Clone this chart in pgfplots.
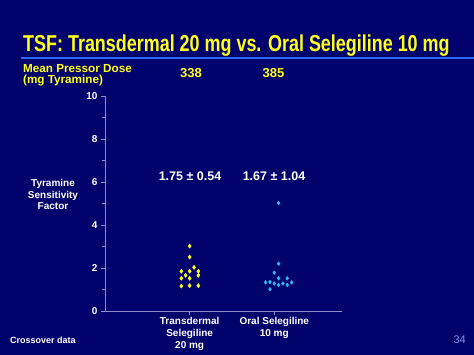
\documentclass[border=0pt]{standalone}
\usepackage{pgfplots}
\pgfplotsset{compat=1.18}
\usepackage{fontspec}
\setmainfont{Liberation Sans}
\newfontfamily\titlefont[FakeStretch=0.78]{Liberation Sans}
\definecolor{bg}{RGB}{2,2,108}
\definecolor{ttl}{RGB}{255,255,20}
\definecolor{rule}{RGB}{50,100,255}
\definecolor{axc}{RGB}{140,140,205}
\definecolor{cy}{RGB}{40,190,240}
\definecolor{pg}{RGB}{130,150,230}
\pgfplotstableread{
x y
0.902 1.16
1.0 1.18
1.103 1.18
0.902 1.52
1.0 1.52
0.952 1.66
1.103 1.66
0.902 1.85
1.0 1.85
1.103 1.85
1.052 2.03
1.0 2.51
1.0 3.02
}\transdermal
\pgfplotstableread{
x y
1.897 1.33
1.949 1.35
2.0 1.28
2.051 1.21
2.102 1.28
2.153 1.21
2.205 1.33
1.949 1.01
2.051 1.52
2.153 1.52
2.0 1.78
2.051 2.20
2.051 5.02
}\oral
\begin{document}
\begin{tikzpicture}[x=1pt,y=1pt]
\useasboundingbox (0,0) rectangle (474,355);
\fill[bg] (0,0) rectangle (474,355);
\node[anchor=base west,inner sep=0pt,text=ttl] at (23,303.5) {\titlefont\bfseries\fontsize{23}{25}\selectfont TSF: Transdermal 20 mg vs. Oral Selegiline 10 mg};
\draw[rule,line width=2pt] (21,296.7) -- (474,296.7);
\begin{axis}[
  at={(105pt,44pt)}, anchor=south west,
  scale only axis, width=237pt, height=215pt,
  xmin=0, xmax=2.8, ymin=0, ymax=10,
  axis x line=bottom, axis y line=left,
  axis line style={axc,-,line width=0.8pt},
  every tick/.style={axc,line width=0.8pt},
  tick align=outside,
  major tick length=4pt, minor tick length=3pt,
  ytick={0,2,4,6,8,10}, minor ytick={1,3,5,7,9},
  xtick={1,2},
  xticklabels={Transdermal\\Selegiline\\20 mg, Oral Selegiline\\10 mg},
  xticklabel style={align=center,text=white,font=\bfseries\fontsize{10}{12}\selectfont, yshift=1pt},
  yticklabel style={text=white,font=\bfseries\fontsize{10}{12}\selectfont},
  /pgf/number format/assume math mode=true,
  clip=false,
]
\addplot[only marks, mark=diamond*, mark size=2.1pt, color=ttl] table[x=x,y=y] {\transdermal};
\addplot[only marks, mark=diamond*, mark size=1.9pt, color=cy] table[x=x,y=y] {\oral};
\end{axis}
\node[anchor=base west,inner sep=0pt,text=ttl,font=\bfseries\fontsize{11.7}{13}\selectfont] at (23,282) {Mean Pressor Dose};
\node[anchor=base west,inner sep=0pt,text=ttl,font=\bfseries\fontsize{11.7}{13}\selectfont] at (23,271) {(mg Tyramine)};
\node[anchor=base,inner sep=0pt,text=ttl,font=\bfseries\fontsize{13}{15}\selectfont] at (191,277.7) {338};
\node[anchor=base,inner sep=0pt,text=ttl,font=\bfseries\fontsize{13}{15}\selectfont] at (273.5,277.7) {385};
\node[anchor=base,inner sep=0pt,text=white,font=\bfseries\fontsize{12.5}{14}\selectfont] at (190,174) {1.75 ± 0.54};
\node[anchor=base,inner sep=0pt,text=white,font=\bfseries\fontsize{12.5}{14}\selectfont] at (274,174) {1.67 ± 1.04};
\node[anchor=base,inner sep=0pt,text=white,font=\bfseries\fontsize{10}{12}\selectfont] at (53,168.5) {Tyramine};
\node[anchor=base,inner sep=0pt,text=white,font=\bfseries\fontsize{10}{12}\selectfont] at (53,156.5) {Sensitivity};
\node[anchor=base,inner sep=0pt,text=white,font=\bfseries\fontsize{10}{12}\selectfont] at (53,145.5) {Factor};
\node[anchor=base west,inner sep=0pt,text=white,font=\bfseries\fontsize{9}{11}\selectfont] at (10,11) {Crossover data};
\node[anchor=base east,inner sep=0pt,text=pg,font=\fontsize{11}{13}\selectfont] at (466,11) {34};
\end{tikzpicture}
\end{document}
